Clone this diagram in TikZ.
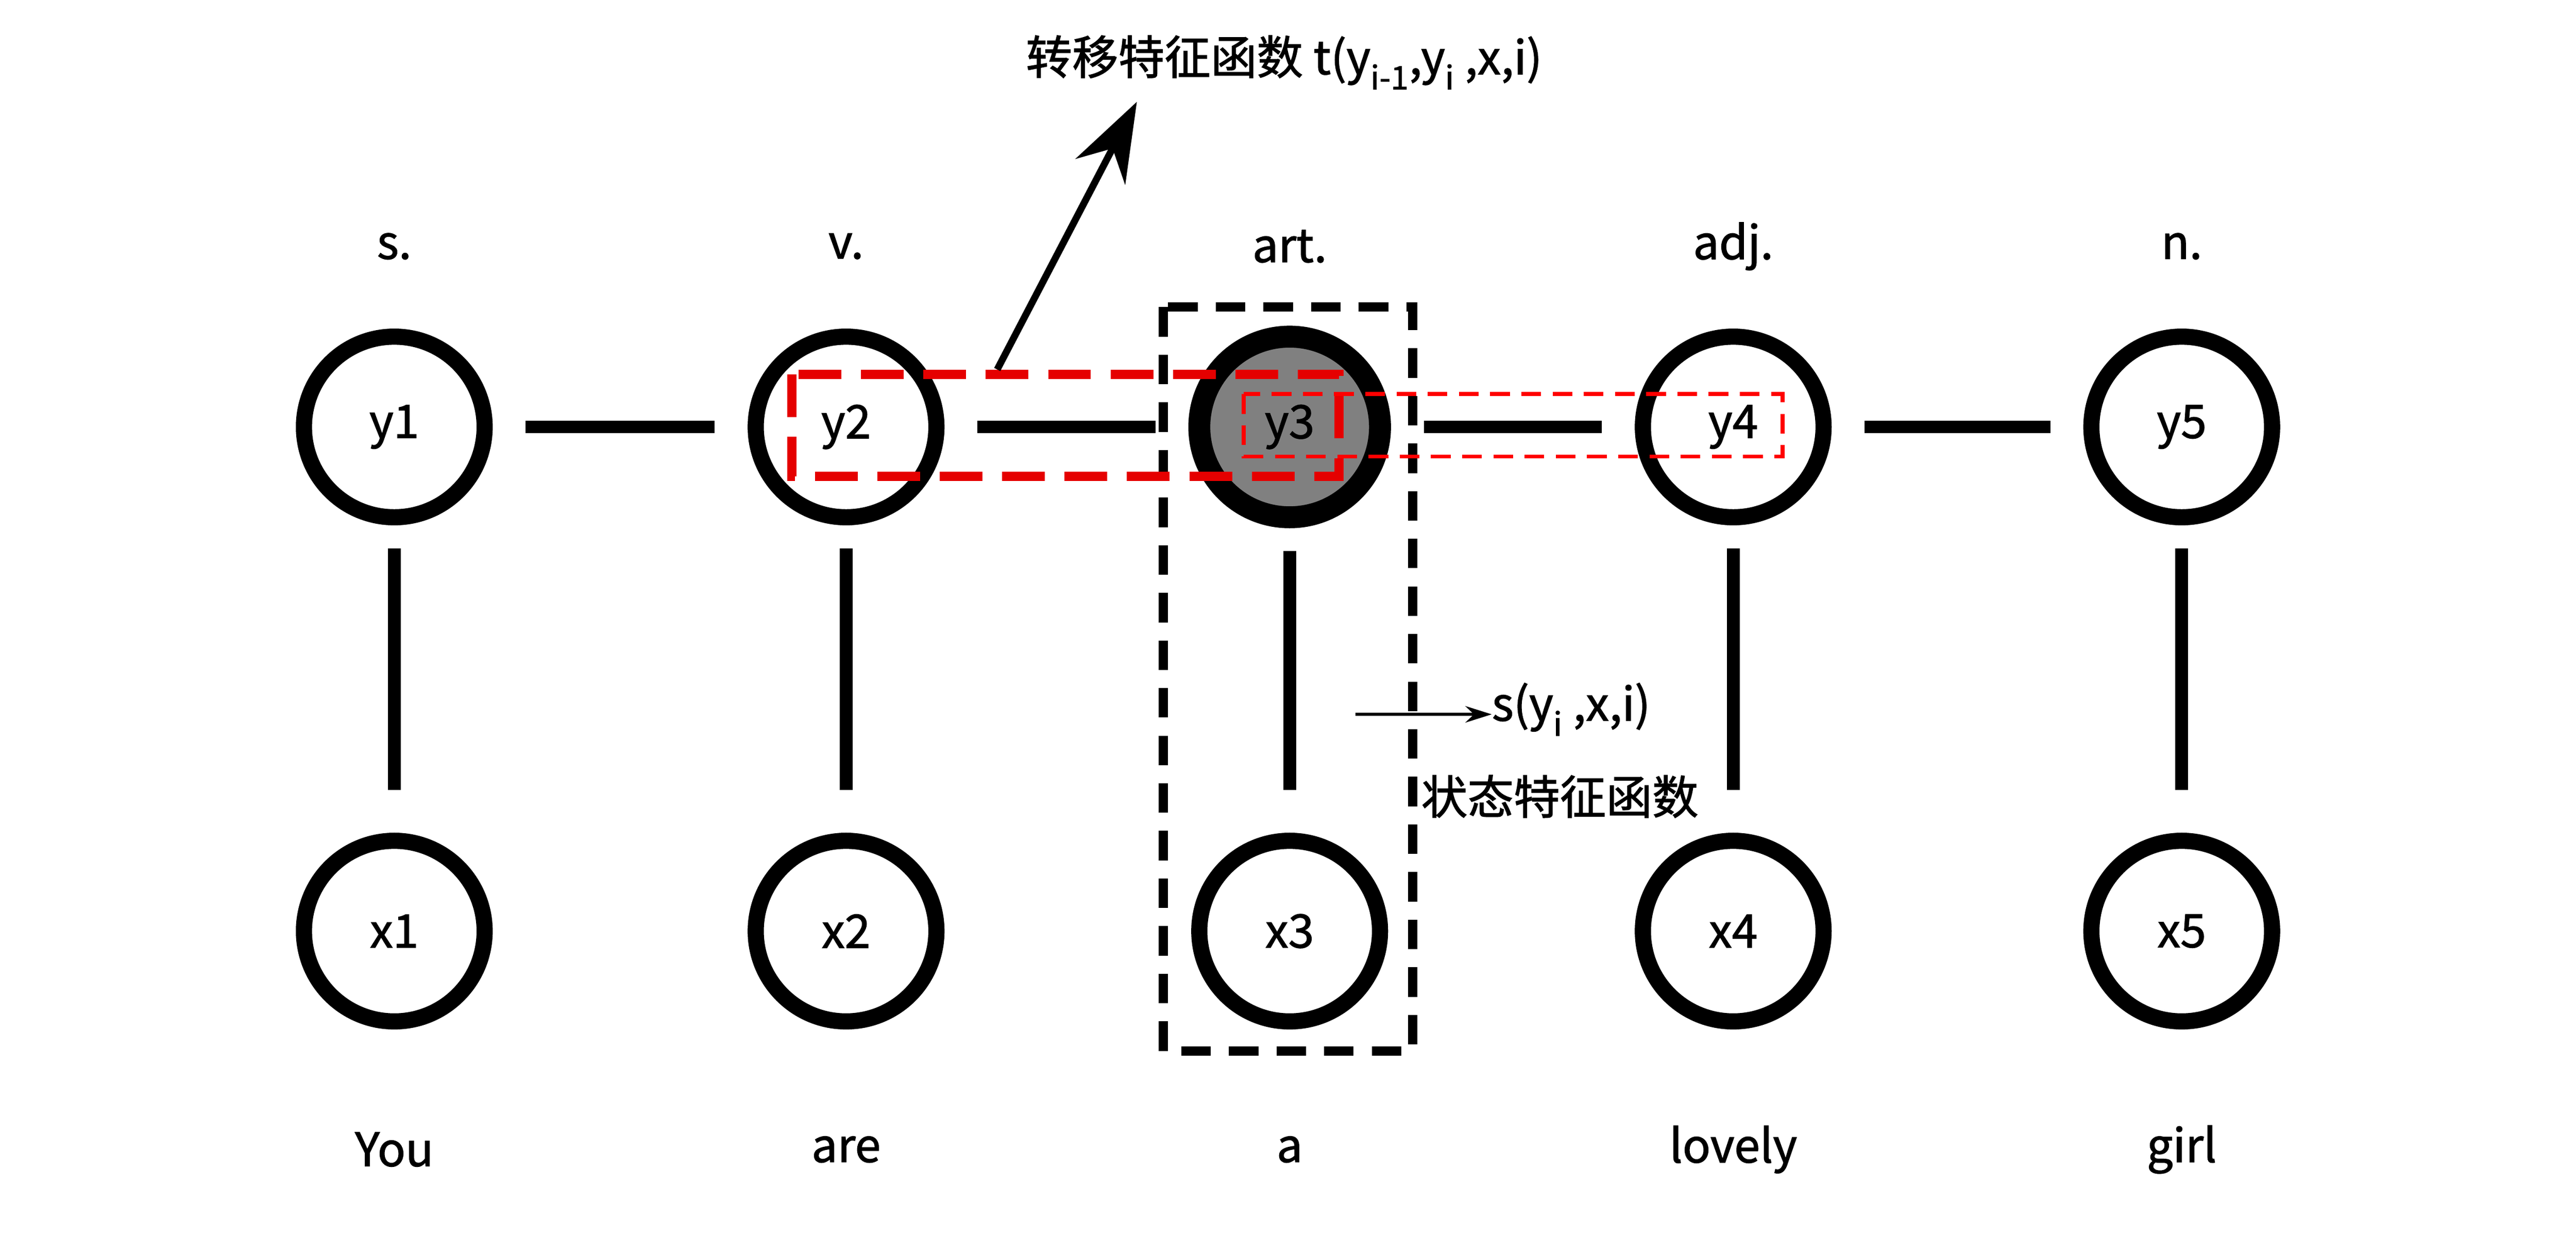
\documentclass[tikz,border=0pt]{standalone}
\usepackage{fontspec}
\setmainfont{Noto Sans CJK SC}[FakeBold=1.5,AutoFakeBold=1.5]
\usetikzlibrary{arrows.meta}
\begin{document}
\begin{tikzpicture}[x=0.05cm,y=-0.05cm,
  nd/.style={circle,draw=black,line width=14pt,minimum size=5.5cm,inner sep=0pt,font=\fontsize{40}{46}\selectfont\bfseries},
  lbl/.style={font=\fontsize{40}{46}\selectfont\bfseries},
  conn/.style={line width=11pt,shorten <=1.0cm,shorten >=1.0cm},
  vconn/.style={line width=11pt,shorten <=0.7cm,shorten >=1.3cm}]
\useasboundingbox (0,0) rectangle (1568,764);
\foreach \i/\x/\t/\w in {1/240/s./You,2/515/v./are,3/785/art./a,4/1055/adj./lovely,5/1328/n./girl}{
  \node[lbl] (t\i) at (\x,150) {\t};
  \node[lbl] (w\i) at (\x,700) {\w};
  \node[nd] (x\i) at (\x,567) {x\i};
}
\node[nd] (y1) at (240,260) {y1};
\node[nd] (y2) at (515,260) {y2};
\node[nd,line width=19pt,fill={rgb,255:red,128;green,128;blue,128}] (y3) at (785,260) {y3};
\node[nd] (y4) at (1055,260) {y4};
\node[nd] (y5) at (1328,260) {y5};
\foreach \a/\b in {1/2,2/3,3/4,4/5}{\draw[conn] (y\a) -- (y\b);}
\foreach \i in {1,...,5}{\draw[vconn] (y\i) -- (x\i);}
\draw[line width=8pt,dash pattern=on 0.9cm off 0.55cm] (708,187) rectangle (860,640);
\draw[red!90!black,line width=8pt,dash pattern=on 1.3cm off 0.6cm] (482,228) rectangle (815,290);
\draw[red,line width=3.5pt,dash pattern=on 0.6cm off 0.35cm] (757,240) rectangle (1085,278);
\coordinate (a0) at (607,225);
\coordinate (a1) at (692,62);
\draw[line width=6pt,-{Stealth[length=2.4cm,width=1.7cm,inset=0.8cm]}] (a0) -- (a1);
\node[lbl,anchor=west] (tt) at (622,38) {转移特征函数 t(y\textsubscript{i-1},y\textsubscript{i} ,x,i)};
\coordinate (b0) at (825,435);
\node[lbl,anchor=west,inner sep=0pt] (st) at (908,432) {s(y\textsubscript{i} ,x,i)};
\draw[line width=3pt,-{Stealth[length=0.8cm,width=0.5cm]}] (b0) -- (b0 -| st.west);
\node[lbl,anchor=west,inner sep=0pt] (sz) at (865,485) {状态特征函数};
\end{tikzpicture}
\end{document}
